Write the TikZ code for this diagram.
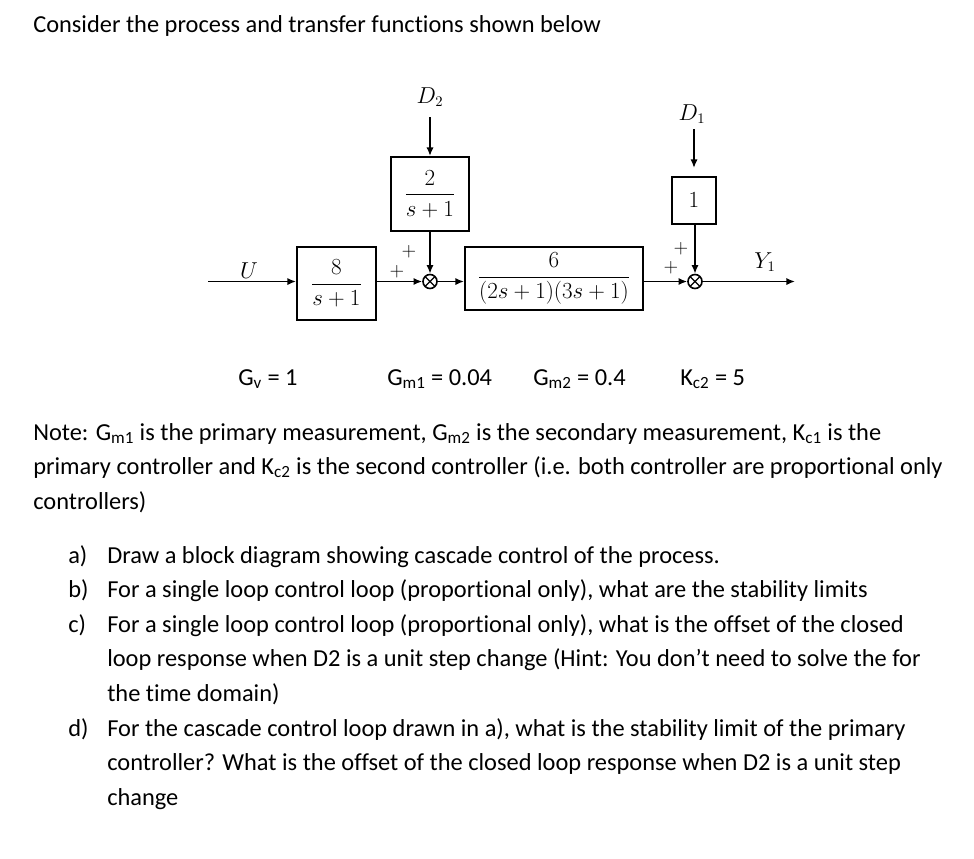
\documentclass[tikz,border=0pt]{standalone}
\usepackage{fontspec}
\setmainfont{Carlito}[Ligatures=NoCommon]
\usepackage{amsmath}
\usetikzlibrary{arrows.meta}
\newcommand\wsub[1]{\textsubscript{#1}}
\begin{document}
\begin{tikzpicture}[x=0.75pt,y=-0.75pt,
 txt/.style={anchor=base west, inner sep=0pt, font=\fontsize{18.3}{22}\selectfont},
 blk/.style={draw, line width=1.5pt, inner sep=0pt, font=\fontsize{18}{21}\selectfont},
 sumj/.style={circle, draw, line width=1.2pt, minimum size=10.5pt, inner sep=0pt,
   path picture={\draw[line width=1pt] (path picture bounding box.north west) -- (path picture bounding box.south east)
     (path picture bounding box.north east) -- (path picture bounding box.south west);}},
 sig/.style={line width=1.3pt, -{Latex[length=6.5pt,width=5.5pt]}},
 lab/.style={inner sep=0pt, font=\fontsize{16}{18}\selectfont},
 pl/.style={inner sep=0pt, font=\fontsize{14}{16}\selectfont}]
\useasboundingbox[fill=white] (0,0) rectangle (974,858);

% title
\node[txt] (title) at (33,32) {Consider the process and transfer functions shown below};

% diagram
\node[blk, minimum width=59.25pt, minimum height=54.75pt] (g1) at (336.5,283.5) {$\dfrac{8}{s+1}$};
\node[blk, minimum width=58.5pt, minimum height=55.5pt] (gd2) at (430,194) {$\dfrac{2}{s+1}$};
\node[blk, minimum width=133.5pt, minimum height=47.25pt] (gp) at (554,278.5) {$\dfrac{6}{(2s+1)(3s+1)}$};
\node[blk, minimum width=33pt, minimum height=35.25pt] (gd1) at (694,200.5) {$1$};
\node[sumj] (s1) at (430,281.5) {};
\node[sumj] (s2) at (695,281.5) {};

\coordinate (uin) at (208,281.5);
\coordinate (yout) at (795,281.5);
\node[lab, anchor=south] (ulab) at (249,279) {$U$};
\node[lab, anchor=south] (ylab) at (765,272) {$Y_1$};
\node[lab, anchor=south] (d2lab) at (430,107) {$D_2$};
\node[lab, anchor=south] (d1lab) at (692,124) {$D_1$};

\draw[sig] (uin) -- (uin -| g1.west);
\draw[sig] (g1.east |- s1) -- (s1.west);
\draw[sig] (s1.east) -- (s1 -| gp.west);
\draw[sig] (gp.east |- s2) -- (s2.west);
\draw[sig] (s2.east) -- (yout);
\draw[sig] ([yshift=-7.5pt]d2lab.south) -- (gd2.north);
\draw[sig] (gd2.south) -- (s1.north);
\draw[sig] ([yshift=-4pt]d1lab.south -| gd1.north) -- ([yshift=6pt]gd1.north);
\draw[sig] (gd1.south -| s2) -- (s2.north);

\node[pl] (p1) at (409,252) {$+$};
\node[pl] (p2) at (397,272) {$+$};
\node[pl] (p3) at (681,249) {$+$};
\node[pl] (p4) at (671,268) {$+$};

% parameters
\node[txt] (gv) at (238,385) {G\wsub{v} = 1};
\node[txt] (gm1) at (387,385) {G\wsub{m1} = 0.04};
\node[txt] (gm2) at (533,385) {G\wsub{m2} = 0.4};
\node[txt] (kc2) at (680,385) {K\wsub{c2} = 5};

% note
\node[txt] (n1) at (33,440) {Note: G\wsub{m1} is the primary measurement, G\wsub{m2} is the secondary measurement, K\wsub{c1} is the};
\node[txt] (n2) at (33,474.5) {primary controller and K\wsub{c2} is the second controller (i.e. both controller are proportional only};
\node[txt] (n3) at (33,509) {controllers)};

% questions
\node[txt] (qa) at (68,563) {a)};
\node[txt] (ta) at (107,563) {Draw a block diagram showing cascade control of the process.};
\node[txt] (qb) at (68,597.5) {b)};
\node[txt] (tb) at (107,597.5) {For a single loop control loop (proportional only), what are the stability limits};
\node[txt] (qc) at (68,632) {c)};
\node[txt] (tc1) at (107,632) {For a single loop control loop (proportional only), what is the offset of the closed};
\node[txt] (tc2) at (107,666.5) {loop response when D2 is a unit step change (Hint: You don’t need to solve the for};
\node[txt] (tc3) at (107,701) {the time domain)};
\node[txt] (qd) at (68,736) {d)};
\node[txt] (td1) at (107,736) {For the cascade control loop drawn in a), what is the stability limit of the primary};
\node[txt] (td2) at (107,770.5) {controller? What is the offset of the closed loop response when D2 is a unit step};
\node[txt] (td3) at (107,805) {change};
\end{tikzpicture}
\end{document}
